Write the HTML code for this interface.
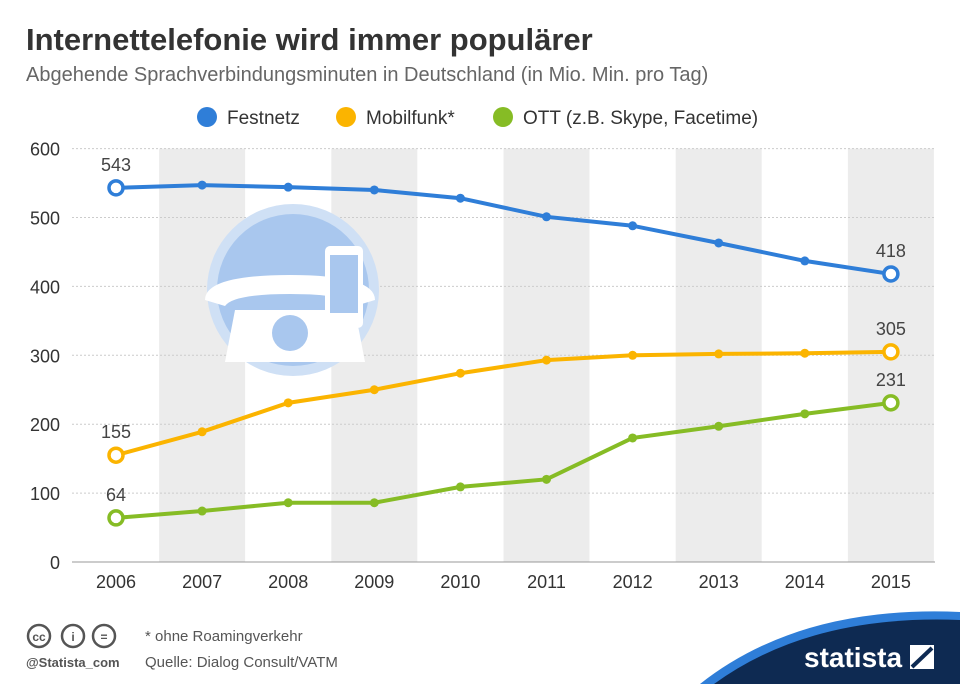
<!DOCTYPE html>
<html><head><meta charset="utf-8"><style>
body{margin:0;width:960px;height:684px;background:#fff;font-family:"Liberation Sans",sans-serif;overflow:hidden;position:relative}
.t{position:absolute;left:26px;top:22px;font-size:31px;font-weight:bold;color:#333}
.s{position:absolute;left:26px;top:64px;font-size:20px;color:#666}
</style></head><body>
<div class="t">Internettelefonie wird immer populärer</div>
<div class="s">Abgehende Sprachverbindungsminuten in Deutschland (in Mio. Min. pro Tag)</div>
<svg id="c" width="960" height="684" style="position:absolute;left:0;top:0"></svg>
<script>
const years=["2006","2007","2008","2009","2010","2011","2012","2013","2014","2015"];
const festnetz=[543,547,544,540,528,501,488,463,437,418];
const mobilfunk=[155,189,231,250,274,293,300,302,303,305];
const ott=[64,74,86,86,109,120,180,197,215,231];
const yTicks=[0,100,200,300,400,500,600];
const NS="http://www.w3.org/2000/svg";
const svg=document.getElementById('c');
function x(i){return 116+i*86.1;}
function y(v){return 562-v*0.689;}
function el(t,a,p){const e=document.createElementNS(NS,t);for(const k in a)e.setAttribute(k,a[k]);(p||svg).appendChild(e);return e;}
years.forEach((yr,i)=>{if(i%2==1){const r=el('rect',{x:x(i)-43,y:y(600),width:86,height:y(0)-y(600),fill:'#ececec'});

}});
yTicks.forEach(v=>{const l=el('line',{x1:72,x2:935,y1:y(v),y2:y(v),stroke:v==0?'#999':'#ccc','stroke-dasharray':v==0?'':'2,2'});


const t=el('text',{x:60,y:y(v)+7,'text-anchor':'end','font-size':18,fill:'#333'});t.textContent=v;

});
years.forEach((yr,i)=>{const t=el('text',{x:x(i),y:588,'text-anchor':'middle','font-size':18,fill:'#333'});t.textContent=yr;

});
const g=el('g',{});


el('circle',{cx:293,cy:290,r:86,fill:'#cfe0f5'},g);
el('circle',{cx:293,cy:290,r:76,fill:'#a9c7ee'},g);
el('path',{d:'M205,300 q0,-25 85,-25 q85,0 85,25 l-20,6 q-8,-12 -65,-12 q-57,0 -65,12z',fill:'#fff'},g);
el('path',{d:'M235,310 h120 l10,52 h-140z',fill:'#fff'},g);
el('circle',{cx:290,cy:333,r:18,fill:'#a9c7ee'},g);
el('rect',{x:325,y:246,width:38,height:82,rx:5,fill:'#fff'},g);
el('rect',{x:330,y:255,width:28,height:58,fill:'#a9c7ee'},g);
const series=[[festnetz,'#2f7ed8','festnetz'],[mobilfunk,'#fbb400','mobilfunk'],[ott,'#86bc25','ott']];
series.forEach(([d,c,n])=>{
 const p=el('polyline',{points:d.map((v,i)=>x(i)+','+y(v)).join(' '),fill:'none',stroke:c,'stroke-width':4});
 
 
 d.forEach((v,i)=>{const end=i==0||i==d.length-1;
  const m=el('circle',{cx:x(i),cy:y(v),r:end?7:4.5,fill:end?'#fff':c,stroke:c,'stroke-width':end?3.5:0});
  
  
  if(end){const t=el('text',{x:x(i),y:y(v)-17,'text-anchor':'middle','font-size':18,fill:'#444'});t.textContent=v;
  
  }
 });
});
[['Festnetz','#2f7ed8',207],['Mobilfunk*','#fbb400',346],['OTT (z.B. Skype, Facetime)','#86bc25',503]].forEach(([n,c,lx])=>{
 const ci=el('circle',{cx:lx,cy:117,r:10,fill:c});
 
 
 const t=el('text',{x:lx+20,y:124,'font-size':19,fill:'#333'});t.textContent=n;
 
 
});
[[39,'cc'],[73,'i'],[104,'=']].forEach(([cx,s])=>{el('circle',{cx:cx,cy:636,r:11,fill:'none',stroke:'#555','stroke-width':2.5});const t=el('text',{x:cx,y:641,'text-anchor':'middle','font-size':12,'font-weight':'bold',fill:'#555'});t.textContent=s;});
const f1=el('text',{x:26,y:667,'font-size':13,'font-weight':'bold',fill:'#555'});f1.textContent='@Statista_com';

const f2=el('text',{x:145,y:641,'font-size':15,fill:'#555'});f2.textContent='* ohne Roamingverkehr';

const f3=el('text',{x:145,y:667,'font-size':15,fill:'#555'});f3.textContent='Quelle: Dialog Consult/VATM';

el('path',{d:'M700,684 Q800,605 960,612 L960,684Z',fill:'#2f7ed8'});
el('path',{d:'M714,684 Q810,614 960,620 L960,684Z',fill:'#0e2a52'});
const lg=el('text',{x:804,y:667,'font-size':28,'font-weight':'bold',fill:'#fff'});lg.textContent='statista';

el('path',{d:'M910,645 h24 v24 h-24z',fill:'#fff'});
el('path',{d:'M912,667 L932,648',stroke:'#0e2a52','stroke-width':4});
</script>
</body></html>
